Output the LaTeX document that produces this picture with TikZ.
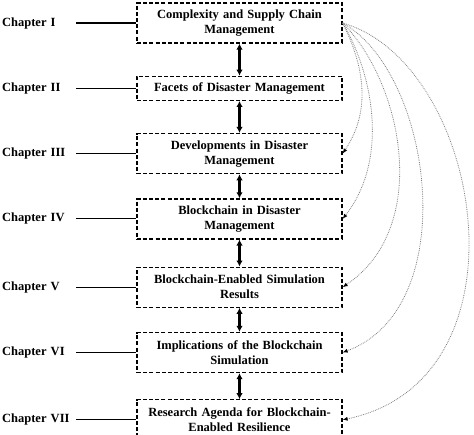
\documentclass[tikz,border=0pt]{standalone}
\usepackage{fontspec}
\setmainfont{Liberation Serif}
\usetikzlibrary{positioning,arrows.meta}

\tikzset{
  partbox/.style={draw, dash pattern=on 4pt off 2.2pt, line width=1.3pt, text width=195pt,
    align=center, inner xsep=5pt, inner ysep=4pt, minimum height=40pt,
    font=\fontsize{12.5}{15}\selectfont\bfseries},
  chaplabel/.style={text width=74pt, align=left, inner sep=0pt, font=\fontsize{12.5}{15}\selectfont\bfseries},
  tie/.style={line width=1.1pt},
  link/.style={{Latex[length=6pt,width=6.5pt]}-{Latex[length=6pt,width=6.5pt]}, line width=2.2pt},
  jump/.style={-{Latex[length=5pt,width=4pt,color=black]}, draw=gray, densely dotted, line width=0.8pt}
}

\begin{document}
\begin{tikzpicture}
\useasboundingbox (0,0) rectangle (474pt,-434pt);

\node[partbox] (b1) at (239.5pt,-23pt) {Complexity and Supply Chain\\ Management};
\node[partbox, minimum height=24pt, below=32pt of b1] (b2) {Facets of Disaster Management};
\node[partbox, below=32pt of b2] (b3) {Developments in Disaster\\ Management};
\node[partbox, below=24pt of b3] (b4) {Blockchain in Disaster\\ Management};
\node[partbox, below=27pt of b4] (b5) {Blockchain-Enabled Simulation\\ Results};
\node[partbox, below=24pt of b5] (b6) {Implications of the Blockchain\\ Simulation};
\node[partbox, below=26pt of b6] (b7) {Research Agenda for Blockchain-\\ Enabled Resilience};

\foreach \i/\t in {1/I, 2/II, 3/III, 4/IV, 5/V, 6/VI, 7/VII} {
    \node[chaplabel, left=60pt of b\i] (c\i) {Chapter \t};
    \draw[tie] (c\i) -- (b\i);
}

\foreach \i/\j in {b1/b2, b2/b3, b3/b4, b4/b5, b5/b6, b6/b7}
    \draw[link] (\i) -- (\j);
%
\draw[jump] (b1.east) .. controls +(20pt,-40pt) and +(30pt,45pt) .. (b3.east);
\draw[jump] (b1.east) .. controls +(30pt,-50pt) and +(47pt,60pt) .. (b4.east);
\draw[jump] (b1.east) .. controls +(60pt,-60pt) and +(89pt,60pt) .. (b5.east);
\draw[jump] (b1.east) .. controls +(90pt,-50pt) and +(121pt,45pt) .. (b6.east);
\draw[jump] (b1.east) .. controls +(140pt,-40pt) and +(193pt,40pt) .. (b7.east);
\end{tikzpicture}
\end{document}
